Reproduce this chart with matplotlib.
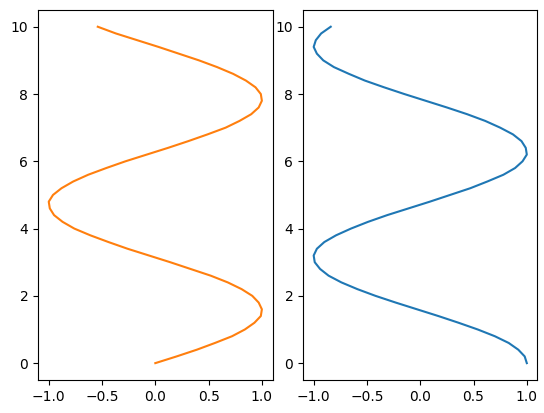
import matplotlib
matplotlib.use("Agg")
import matplotlib.pyplot as plt

y_vals = [round(i * 0.2, 1) for i in range(51)]
left_x = [0.00, 0.20, 0.39, 0.56, 0.72, 0.84, 0.93, 0.99, 1.00, 0.97,
          0.91, 0.81, 0.68, 0.52, 0.33, 0.14, -0.06, -0.26, -0.44, -0.61,
          -0.76, -0.87, -0.95, -0.99, -1.00, -0.96, -0.88, -0.77, -0.63, -0.46,
          -0.28, -0.08, 0.12, 0.31, 0.49, 0.66, 0.79, 0.90, 0.97, 1.00,
          0.99, 0.94, 0.85, 0.73, 0.58, 0.41, 0.22, 0.03, -0.17, -0.37, -0.54]
right_x = [1.00, 0.98, 0.92, 0.83, 0.70, 0.54, 0.36, 0.17, -0.03, -0.23,
           -0.42, -0.59, -0.74, -0.86, -0.94, -0.99, -1.00, -0.97, -0.90, -0.79,
           -0.65, -0.49, -0.31, -0.11, 0.09, 0.28, 0.47, 0.63, 0.78, 0.89,
           0.96, 1.00, 0.99, 0.95, 0.87, 0.75, 0.61, 0.44, 0.25, 0.05,
           -0.15, -0.34, -0.52, -0.67, -0.81, -0.91, -0.97, -1.00, -0.98, -0.93, -0.84]
x_ticks = [-1.0, -0.5, 0.0, 0.5, 1.0]

fig, (ax1, ax2) = plt.subplots(1, 2, figsize=(5.44, 4.13), dpi=100)
fig.subplots_adjust(left=0.07, right=0.988, top=0.976, bottom=0.08, wspace=0.13)
ax1.plot(left_x, y_vals, color="#ff7f0e")
ax2.plot(right_x, y_vals, color="#1f77b4")
for ax in (ax1, ax2):
    ax.set_xticks(x_ticks)
fig.savefig("out.png", dpi=100)
